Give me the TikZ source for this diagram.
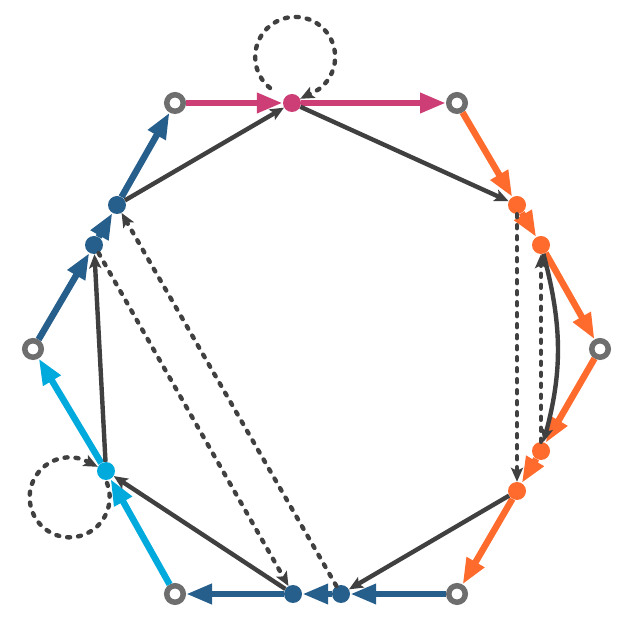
\documentclass[tikz,border=0pt]{standalone}
\usepackage{tikz}
\usetikzlibrary{arrows.meta}
\definecolor{pinkc}{RGB}{204,62,117}
\definecolor{orangec}{RGB}{255,107,44}
\definecolor{bluec}{RGB}{38,94,140}
\definecolor{cyanc}{RGB}{0,170,221}
\definecolor{ringgray}{RGB}{110,110,110}
\definecolor{edgegray}{RGB}{64,64,64}
\tikzstyle{ring} = [circle, minimum size=16.5pt, inner sep=0pt, draw=ringgray, line width=5.5pt, fill=white]
\tikzstyle{dot} = [circle, minimum size=18pt, inner sep=0pt]
\tikzstyle{arrowc} = [line width=6.5pt, -{Triangle[length=26pt,width=19pt]}]
\tikzstyle{arrowd} = [line width=4.4pt, draw=edgegray, -{Stealth[length=14pt,width=12pt,inset=3pt]}]
\tikzstyle{dashline} = [arrowd, line cap=round, dash pattern=on 3pt off 8pt]

\begin{document}
\begin{tikzpicture}[x=1pt, y=1pt]
        \useasboundingbox (0,0) rectangle (643,643);
        % hexagon corners
        \node (v1) [ring] at (175,540) {};
        \node (v2) [ring] at (457,540) {};
        \node (v3) [ring] at (600,294) {};
        \node (v4) [ring] at (457,49) {};
        \node (v5) [ring] at (175,49) {};
        \node (v6) [ring] at (33,294) {};
        % points on the sides
        \node (p1) [dot, fill=pinkc] at (292,540) {};
        \node (o1) [dot, fill=orangec] at (517,438) {};
        \node (o2) [dot, fill=orangec] at (541,398) {};
        \node (o3) [dot, fill=orangec] at (541,192) {};
        \node (o4) [dot, fill=orangec] at (517,152) {};
        \node (b1) [dot, fill=bluec] at (293,49) {};
        \node (b2) [dot, fill=bluec] at (341,49) {};
        \node (b3) [dot, fill=bluec] at (94,398) {};
        \node (b4) [dot, fill=bluec] at (117,438) {};
        \node (c1) [dot, fill=cyanc] at (106,172) {};

        \draw [arrowc, pinkc] (v1) -- (p1);
        \draw [arrowc, pinkc] (p1) -- (v2);
        \draw [arrowc, orangec] (v2) -- (o1);
        \draw [arrowc, orangec] (o1) -- (o2);
        \draw [arrowc, orangec] (o2) -- (v3);
        \draw [arrowc, orangec] (v3) -- (o3);
        \draw [arrowc, orangec] (o3) -- (o4);
        \draw [arrowc, orangec] (o4) -- (v4);
        \draw [arrowc, bluec] (v4) -- (b2);
        \draw [arrowc, bluec] (b2) -- (b1);
        \draw [arrowc, bluec] (b1) -- (v5);
        \draw [arrowc, cyanc] (v5) -- (c1);
        \draw [arrowc, cyanc] (c1) -- (v6);
        \draw [arrowc, bluec] (v6) -- (b3);
        \draw [arrowc, bluec] (b3) -- (b4);
        \draw [arrowc, bluec] (b4) -- (v1);

        \draw [arrowd] (b4) -- (p1);
        \draw [arrowd] (p1) -- (o1);
        \draw [arrowd] (o2) to[bend left=15] (o3);
        \draw [arrowd] (o4) -- (b2);
        \draw [arrowd] (b1) -- (c1);
        \draw [arrowd] (c1) -- (b3);
        \draw [dashline] (o1) -- (o4);
        \draw [dashline] (o3) -- (o2);
        \draw [dashline] (b3) -- (b1);
        \draw [dashline] (b2) -- (b4);
        % self loops
        \draw [dashline] (p1) ++(-22,15) arc[start angle=231, end angle=-55, radius=40] -- (p1);
        \draw [dashline] (c1) ++(1,-12) arc[start angle=21, end angle=-293, radius=40] -- (c1);
\end{tikzpicture}
\end{document}
